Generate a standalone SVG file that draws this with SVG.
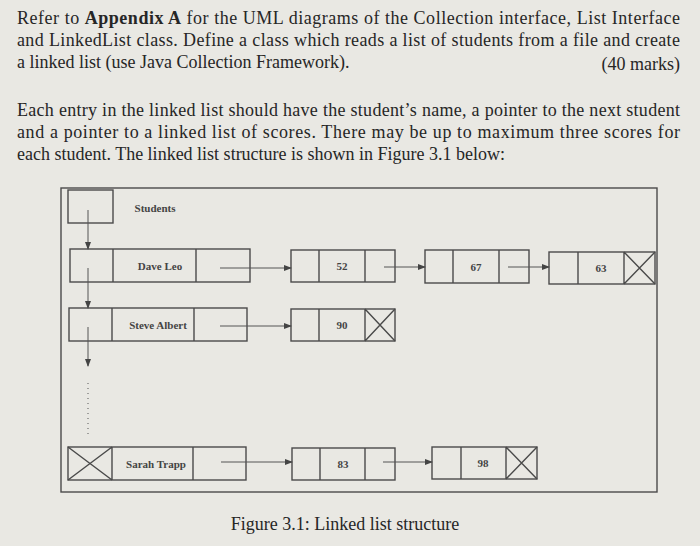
<svg xmlns="http://www.w3.org/2000/svg" width="700" height="546" viewBox="0 0 700 546">
<defs>
<marker id="ah" markerWidth="8" markerHeight="8" refX="7" refY="4" orient="auto" markerUnits="userSpaceOnUse"><path d="M0,1 L8,4 L0,7 Z" fill="#444"/></marker>
<style>
.t{font-family:"Liberation Serif",serif;font-size:18px;fill:#262626}
.s{font-family:"Liberation Serif",serif;font-size:11px;fill:#444;text-anchor:middle}
.b{fill:none;stroke:#4a4a4a;stroke-width:1.4}
.c{stroke:#555;stroke-width:1;fill:none}
</style>
</defs>
<rect width="700" height="546" fill="#e9e8e3"/>
<g id="text">
<text class="t" x="17" y="24" textLength="663" lengthAdjust="spacing">Refer to <tspan font-weight="bold">Appendix A</tspan> for the UML diagrams of the Collection interface, List Interface</text>
<text class="t" x="17" y="46" textLength="663" lengthAdjust="spacing">and LinkedList class. Define a class which reads a list of students from a file and create</text>
<text class="t" x="17" y="68">a linked list (use Java Collection Framework).</text>
<text class="t" x="680" y="70" text-anchor="end">(40 marks)</text>
<text class="t" x="17" y="116" textLength="663" lengthAdjust="spacing">Each entry in the linked list should have the student’s name, a pointer to the next student</text>
<text class="t" x="17" y="138" textLength="663" lengthAdjust="spacing">and a pointer to a linked list of scores. There may be up to maximum three scores for</text>
<text class="t" x="17" y="160">each student. The linked list structure is shown in Figure 3.1 below:</text>
<text class="t" x="345" y="530" text-anchor="middle">Figure 3.1: Linked list structure</text>
</g>
<rect x="61" y="188" width="596" height="304" class="b"/>
<g id="students"><rect x="68" y="190" width="45" height="33" class="b"/><text class="s" x="155" y="212" font-weight="bold">Students</text></g>
<g id="dave"><rect x="70" y="249" width="180" height="33" class="b"/><path d="M113,249V282M196,249V282" class="b"/><text class="s" x="160" y="270" font-weight="bold">Dave Leo</text></g>
<g id="s52"><rect x="291" y="250" width="104" height="32" class="b"/><path d="M319,250V282M365,250V282" class="b"/><text class="s" x="342" y="270" font-weight="bold">52</text></g>
<g id="s67"><rect x="425" y="250" width="104" height="33" class="b"/><path d="M453,250V283M499,250V283" class="b"/><text class="s" x="476" y="271" font-weight="bold">67</text></g>
<g id="s63"><rect x="549" y="252" width="106" height="32" class="b"/><path d="M578,252V284M624,252V284M624,252L655,284M655,252L624,284" class="b"/><text class="s" x="601" y="272" font-weight="bold">63</text></g>
<g id="steve"><rect x="69" y="308" width="178" height="33" class="b"/><path d="M112,308V341M194,308V341" class="b"/><text class="s" x="158" y="329" font-weight="bold">Steve Albert</text></g>
<g id="s90"><rect x="291" y="309" width="104" height="32" class="b"/><path d="M319,309V341M365,309V341M365,309L395,341M395,309L365,341" class="b"/><text class="s" x="342" y="329" font-weight="bold">90</text></g>
<g id="sarah"><rect x="68" y="447" width="178" height="33" class="b"/><path d="M112,447V480M193,447V480M68,447L112,480M112,447L68,480" class="b"/><text class="s" x="156" y="468" font-weight="bold">Sarah Trapp</text></g>
<g id="s83"><rect x="292" y="448" width="103" height="32" class="b"/><path d="M320,448V480M365,448V480" class="b"/><text class="s" x="343" y="468" font-weight="bold">83</text></g>
<g id="s98"><rect x="432" y="447" width="105" height="32" class="b"/><path d="M461,447V479M506,447V479M506,447L537,479M537,447L506,479" class="b"/><text class="s" x="483" y="467" font-weight="bold">98</text></g>
<g id="connectors">
<path d="M88,210V249" class="c" marker-end="url(#ah)"/>
<path d="M88,268V308" class="c" marker-end="url(#ah)"/>
<path d="M88,327V366" class="c" marker-end="url(#ah)"/>
<path d="M88,383V437" class="c" stroke-dasharray="1,4"/>
<path d="M220,268H291" class="c" marker-end="url(#ah)"/>
<path d="M384,267H425" class="c" marker-end="url(#ah)"/>
<path d="M508,267H549" class="c" marker-end="url(#ah)"/>
<path d="M220,326H291" class="c" marker-end="url(#ah)"/>
<path d="M221,462H292" class="c" marker-end="url(#ah)"/>
<path d="M383,462H432" class="c" marker-end="url(#ah)"/>
</g>
</svg>
